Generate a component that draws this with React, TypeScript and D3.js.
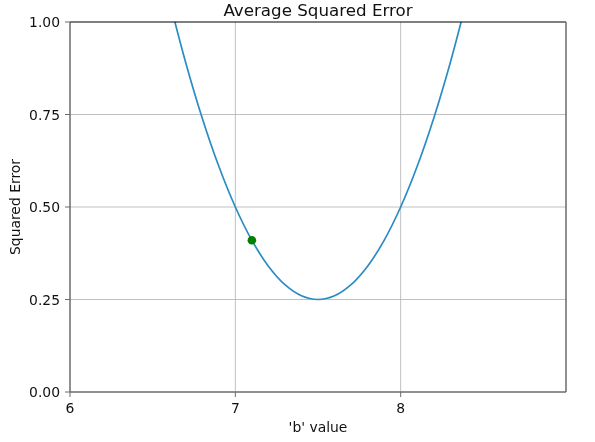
import { useRef, useEffect } from 'react';
import * as d3 from 'd3';

// values
const bValues = [6.6, 6.7, 6.8, 6.9, 7.0, 7.1, 7.2, 7.3, 7.4, 7.5, 7.6, 7.7, 7.8, 7.9, 8.0, 8.1, 8.2, 8.3, 8.4];
const errorValues = [1.06, 0.89, 0.74, 0.61, 0.5, 0.41, 0.34, 0.29, 0.26, 0.25, 0.26, 0.29, 0.34, 0.41, 0.5, 0.61, 0.74, 0.89, 1.06];

const markerB = [7.1];
const markerError = [0.41];

const xTicks = [6, 7, 8];
const yTicks = [0, 0.25, 0.5, 0.75, 1.0];

export default function App() {
    const svgRef = useRef<SVGSVGElement>(null);

    useEffect(() => {
        if (!svgRef.current) return;

        const width = 595;
        const height = 442;
        const margin = { top: 22, right: 29, bottom: 50, left: 70 };
        const font = 'DejaVu Sans, sans-serif';
        const tickSize = '13.9px';

        d3.select(svgRef.current).selectAll('*').remove();

        const svg = d3.select(svgRef.current)
            .attr('width', width)
            .attr('height', height);

        const x = d3.scaleLinear().domain([6, 9]).range([margin.left, width - margin.right]);
        const y = d3.scaleLinear().domain([0, 1]).range([height - margin.bottom, margin.top]);

        const [x0, x1] = x.range();
        const [y0, y1] = y.range();

        svg.append('defs').append('clipPath')
            .attr('id', 'plot-clip')
            .append('rect')
            .attr('x', x0)
            .attr('y', y1)
            .attr('width', x1 - x0)
            .attr('height', y0 - y1);

        // Grid
        const grid = svg.append('g');
        xTicks.filter(t => t > 6).forEach(t => {
            grid.append('line')
                .attr('x1', x(t)).attr('x2', x(t))
                .attr('y1', y1).attr('y2', y0)
                .attr('stroke', '#b0b0b0')
                .attr('stroke-width', 0.8);
        });
        yTicks.filter(t => t > 0 && t < 1).forEach(t => {
            grid.append('line')
                .attr('x1', x0).attr('x2', x1)
                .attr('y1', y(t)).attr('y2', y(t))
                .attr('stroke', '#b0b0b0')
                .attr('stroke-width', 0.8);
        });

        // Curve
        const points = bValues.map((b, i) => [b, errorValues[i]] as [number, number]);
        const line = d3.line<[number, number]>()
            .x(d => x(d[0]))
            .y(d => y(d[1]))
            .curve(d3.curveCatmullRom);

        svg.append('path')
            .datum(points)
            .attr('d', line)
            .attr('fill', 'none')
            .attr('stroke', '#2b8cc4')
            .attr('stroke-width', 1.7)
            .attr('clip-path', 'url(#plot-clip)');

        // Marker
        svg.selectAll('.marker')
            .data(markerB.map((b, i) => [b, markerError[i]]))
            .enter()
            .append('circle')
            .attr('cx', d => x(d[0]))
            .attr('cy', d => y(d[1]))
            .attr('r', 4.3)
            .attr('fill', '#008000');

        // Spines
        const spineColor = '#6b6b6b';
        svg.append('line')
            .attr('x1', x0).attr('x2', x1).attr('y1', y1).attr('y2', y1)
            .attr('stroke', '#000').attr('stroke-width', 1.2);
        svg.append('line')
            .attr('x1', x0).attr('x2', x0).attr('y1', y1).attr('y2', y0)
            .attr('stroke', spineColor).attr('stroke-width', 1.5);
        svg.append('line')
            .attr('x1', x1).attr('x2', x1).attr('y1', y1).attr('y2', y0)
            .attr('stroke', spineColor).attr('stroke-width', 1.5);
        svg.append('line')
            .attr('x1', x0).attr('x2', x1).attr('y1', y0).attr('y2', y0)
            .attr('stroke', spineColor).attr('stroke-width', 1.5);

        // Ticks
        xTicks.forEach(t => {
            svg.append('line')
                .attr('x1', x(t)).attr('x2', x(t))
                .attr('y1', y0).attr('y2', y0 + 5)
                .attr('stroke', spineColor).attr('stroke-width', 1);
            svg.append('text')
                .attr('x', x(t))
                .attr('y', y0 + 21)
                .attr('text-anchor', 'middle')
                .attr('fill', '#111')
                .style('font-family', font)
                .style('font-size', tickSize)
                .text(d3.format('d')(t));
        });

        yTicks.forEach(t => {
            svg.append('line')
                .attr('x1', x0 - 5).attr('x2', x0)
                .attr('y1', y(t)).attr('y2', y(t))
                .attr('stroke', spineColor).attr('stroke-width', 1);
            svg.append('text')
                .attr('x', x0 - 10)
                .attr('y', y(t))
                .attr('dy', '0.36em')
                .attr('text-anchor', 'end')
                .attr('fill', '#111')
                .style('font-family', font)
                .style('font-size', tickSize)
                .text(d3.format('.2f')(t));
        });

        // Labels
        svg.append('text')
            .attr('x', (x0 + x1) / 2)
            .attr('y', 16)
            .attr('text-anchor', 'middle')
            .attr('fill', '#111')
            .style('font-family', font)
            .style('font-size', '16.7px')
            .text('Average Squared Error');

        svg.append('text')
            .attr('x', (x0 + x1) / 2)
            .attr('y', 432)
            .attr('text-anchor', 'middle')
            .attr('fill', '#111')
            .style('font-family', font)
            .style('font-size', tickSize)
            .text("'b' value");

        svg.append('text')
            .attr('transform', `translate(20, ${(y0 + y1) / 2}) rotate(-90)`)
            .attr('text-anchor', 'middle')
            .attr('fill', '#111')
            .style('font-family', font)
            .style('font-size', tickSize)
            .text('Squared Error');
    }, []);

    return (
        <div style={{ position: 'fixed', left: 0, top: 0 }}>
            <svg ref={svgRef}></svg>
        </div>
    );
}
